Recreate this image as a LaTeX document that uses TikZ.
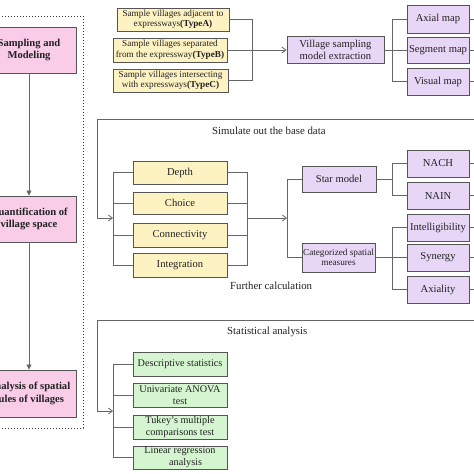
\documentclass[tikz,border=0pt]{standalone}
\usepackage{fontspec}
\setmainfont{Liberation Serif}
\usetikzlibrary{arrows.meta}
\definecolor{pinkf}{HTML}{F9CDE8}
\definecolor{yelf}{HTML}{FDF2C2}
\definecolor{purf}{HTML}{E8D6F7}
\definecolor{grnf}{HTML}{D4F5CF}
\definecolor{edgec}{HTML}{555555}
\definecolor{lnc}{HTML}{666666}
\definecolor{txt}{HTML}{222222}
\begin{document}
\begin{tikzpicture}[x=1pt,y=-1pt,
  box/.style={draw=edgec,line width=0.9pt,inner sep=0pt,align=center,text=txt},
  pinkbox/.style={box,fill=pinkf,minimum width=94pt,font=\fontsize{10.6}{12.5}\selectfont\bfseries},
  topbox/.style={box,fill=yelf,minimum height=23pt,font=\fontsize{9.2}{10.5}\selectfont},
  midbox/.style={box,fill=yelf,minimum width=94pt,font=\fontsize{10.6}{12}\selectfont},
  purbox/.style={box,fill=purf,font=\fontsize{10.6}{12.3}\selectfont},
  mapbox/.style={purbox,minimum width=62pt,minimum height=27pt},
  grnbox/.style={box,fill=grnf,minimum width=94pt,minimum height=24pt,font=\fontsize{10.2}{12}\selectfont},
  lbl/.style={inner sep=0pt,anchor=west,text=txt,font=\fontsize{10.8}{12}\selectfont},
  wire/.style={draw=lnc,line width=0.8pt},
  openarr/.style={-{Straight Barb[length=4pt,width=6pt]}},
  fillarr/.style={-{Triangle[length=5pt,width=5pt]}}]
\useasboundingbox (0,0) rectangle (474,474);
\clip (0,0) rectangle (474,474);
\fill[white] (0,0) rectangle (474,474);
\coordinate (edgeR) at (480,0);

% left dotted frame
\draw[black!80,dotted,line width=1pt] (-30,16) rectangle (83,428);

% left pink column
\node[pinkbox,minimum height=46pt] (S1) at (29,50) {Sampling and\\Modeling};
\node[pinkbox,minimum height=46pt] (S2) at (29,219) {Quantification of\\village space};
\node[pinkbox,minimum height=47pt] (S3) at (29,393.5) {Analysis of spatial\\rules of villages};
\draw[wire,fillarr] (S1) -- (S2);
\draw[wire,fillarr] (S2) -- (S3);

% top row
\node[topbox,minimum width=112pt] (Y1) at (173,19.5) {Sample villages adjacent to\\expressways\textbf{(TypeA)}};
\node[topbox,minimum width=114pt,minimum height=24pt] (Y2) at (170,50) {Sample villages separated\\from the expressway\textbf{(TypeB)}};
\node[topbox,minimum width=115pt] (Y3) at (170.5,80.5) {Sample villages intersecting\\with expressways\textbf{(TypeC)}};
\node[purbox,minimum width=97pt,minimum height=27pt] (V) at (335.5,50) {Village sampling\\model extraction};
\node[mapbox,minimum height=28pt] (AX) at (438,19) {Axial map};
\node[mapbox,minimum height=26pt] (SG) at (438,50) {Segment map};
\node[mapbox] (VM) at (438,81.5) {Visual map};

\coordinate (jy) at (252,50);
\draw[wire] (Y1.east) -| (jy);
\draw[wire] (Y3.east) -| (jy);
\draw[wire] (Y2.east) -- (jy);
\draw[wire,openarr] (jy) -- (V.west);
\coordinate (jm) at (392,50);
\draw[wire] (V.east) -- (jm);
\draw[wire] (jm) |- (AX.west);
\draw[wire] (jm) -- (SG.west);
\draw[wire] (jm) |- (VM.west);
\foreach \n in {AX,SG,VM} \draw[wire] (\n.east) -- (\n.east -| edgeR);

% middle frame
\coordinate (f1) at (480,119);
\coordinate (f1c) at (97,119);
\coordinate (jL) at (113,218);
\draw[wire,openarr] (f1) -- (f1c) |- (jL);
\node[lbl] (simt) at (212,131) {Simulate out the base data};

\node[midbox,minimum height=23pt] (DP) at (180,172.5) {Depth};
\node[midbox,minimum height=22pt] (CH) at (180,203) {Choice};
\node[midbox,minimum height=24pt] (CN) at (180,235) {Connectivity};
\node[midbox,minimum height=24pt] (IN) at (180,265) {Integration};
\draw[wire] (DP.west) -| (jL);
\draw[wire] (IN.west) -| (jL);
\draw[wire] (CH.west) -- (CH.west -| jL);
\draw[wire] (CN.west) -- (CN.west -| jL);
\coordinate (jR) at (247,218);
\draw[wire] (DP.east) -| (jR);
\draw[wire] (IN.east) -| (jR);
\draw[wire] (CH.east) -- (CH.east -| jR);
\draw[wire] (CN.east) -- (CN.east -| jR);
\coordinate (jS) at (287,218);
\draw[wire,openarr] (jR) -- (jS);

\node[purbox,minimum width=74pt,minimum height=26pt] (ST) at (339,179) {Star model};
\node[purbox,minimum width=73pt,minimum height=29pt,font=\fontsize{9.2}{10.5}\selectfont] (CT) at (338.5,257.5) {Categorized spatial\\measures};
\draw[wire] (ST.west) -| (jS);
\draw[wire] (CT.west) -| (jS);
\node[lbl] (furt) at (230,286) {Further calculation};

\node[mapbox] (NC) at (438,163.5) {NACH};
\node[mapbox] (NI) at (438,195.5) {NAIN};
\node[mapbox] (IG) at (438,227.5) {Intelligibility};
\node[mapbox] (SY) at (438,257.5) {Synergy};
\node[mapbox] (AL) at (438,289.5) {Axiality};
\coordinate (jN) at (392,179);
\draw[wire] (ST.east) -- (jN);
\draw[wire] (jN) |- (NC.west);
\draw[wire] (jN) |- (NI.west);
\coordinate (jC) at (392,257.5);
\draw[wire] (CT.east) -- (jC);
\draw[wire] (jC) |- (IG.west);
\draw[wire] (jC) -- (SY.west);
\draw[wire] (jC) |- (AL.west);
\foreach \n in {NC,NI,IG,SY,AL} \draw[wire] (\n.east) -- (\n.east -| edgeR);

% bottom frame
\coordinate (g1) at (480,320);
\coordinate (g1c) at (97,320);
\coordinate (jG) at (113,411);
\draw[wire,openarr] (g1) -- (g1c) |- (jG);
\node[lbl] (statt) at (227,332) {Statistical analysis};

\node[grnbox] (DS) at (180,364) {Descriptive statistics};
\node[grnbox] (UA) at (180,395) {Univariate ANOVA\\test};
\node[grnbox] (TK) at (180,427) {Tukey's multiple\\comparisons test};
\node[grnbox,minimum height=23pt] (LR) at (180,457.5) {Linear regression\\\hspace*{1.1em}analysis};
\draw[wire] (DS.west) -| (jG);
\draw[wire] (LR.west) -| (jG);
\draw[wire] (UA.west) -- (UA.west -| jG);
\draw[wire] (TK.west) -- (TK.west -| jG);
\end{tikzpicture}
\end{document}
